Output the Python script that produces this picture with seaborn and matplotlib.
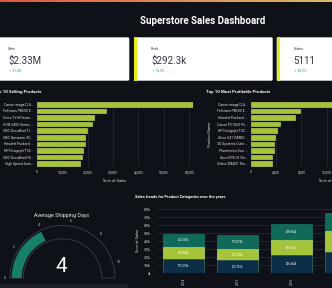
import matplotlib.pyplot as plt
import numpy as np
import pandas as pd
import seaborn as sns
from matplotlib.colors import LinearSegmentedColormap
from matplotlib.patches import FancyBboxPatch, Rectangle, Wedge

W, H = 332, 288
BG = "#0e1117"
LIME = "#a6c43a"
TEAL = "#106a5a"
NAVY = "#0c2e46"
GRID = "#2a2f39"
TXT = "#d8d8d8"

# KPI cards
kpi_names = ["Sales", "Profit", "Orders"]
kpi_values = ["$2.33M", "$292.3k", "5111"]
kpi_deltas = ["21.4%", "16.0%", "28.3%"]

# top 10 products
sales_products = ["Canon imageCLA...", "Fellowes PB500 E...", "Cisco TelePresen...",
                  "HON 5400 Series ...", "GBC DocuBind TL...", "GBC Ibimaster 50...",
                  "Hewlett Packard ...", "HP Designjet T52...", "GBC DocuBind P4...",
                  "High Speed Auto..."]
sales_values = [61600, 27450, 22640, 21870, 19820, 19020, 18840, 18370, 17970, 17030]

profit_products = ["Canon imageCLA...", "Fellowes PB500 E...", "Hewlett Packard ...",
                   "Canon PC1060 Pe...", "HP Designjet T52...", "Ativa V4110MDD ...",
                   "3D Systems Cube ...", "Plantronics Savi ...", "Ibico EPK-21 Ele...",
                   "Zebra ZM400 The..."]
profit_values = [25200, 7753, 6984, 4571, 4095, 3773, 3718, 3696, 3345, 3344]

# yearly sales by category (thousands)
years = ["2014", "2015", "2016", "2017"]
sales_technology = [175.278, 162.781, 226.364, 268.0]
sales_office = [156.804, 137.233, 186.276, 256.0]
sales_furniture = [162.23, 173.018, 208.964, 228.0]

# gauge
avg_ship_days = 4
gauge_max = 11
gauge_ticks = [0, 2, 4, 6, 8, 10]

sns.set_theme(style="dark")
plt.rcParams["font.family"] = ["Roboto", "DejaVu Sans"]

fig = plt.figure(figsize=(W / 100, H / 100), dpi=100, facecolor=BG)


def box(x0, y0, x1, y1):
    return [x0 / W, 1 - y1 / H, (x1 - x0) / W, (y1 - y0) / H]


# background layer in pixel coords
bg = fig.add_axes([0, 0, 1, 1], zorder=0)
grad = np.linspace(0, 1, 200).reshape(1, -1)
cmap = LinearSegmentedColormap.from_list("deco", ["#e0563f", "#dd8a55", "#d8b96b"])
bg.imshow(grad, cmap=cmap, extent=(0, W, 1.6, 0), aspect="auto")
bg.set_xlim(0, W)
bg.set_ylim(H, 0)
bg.axis("off")

bg.text(203, 21.5, "Superstore Sales Dashboard", ha="center", va="center",
        fontsize=7, weight="bold", color="white")

card_x = [(-8.7, 129.3), (134, 272.7), (276.7, 345)]
for (x0, x1), name, val, delta in zip(card_x, kpi_names, kpi_values, kpi_deltas):
    bg.add_patch(FancyBboxPatch((x0, 37.3), x1 - x0, 43.4,
                                boxstyle="round,pad=0,rounding_size=1.5",
                                fc="white", ec="none"))
    bg.add_patch(Rectangle((x0, 37.3), 3, 43.4, fc="#e3ee12", ec="none"))
    bg.text(x0 + 17, 49, name, fontsize=2.3, color="#31333f", va="center")
    bg.text(x0 + 17, 60.5, val, fontsize=7, color="#31333f", va="center")
    bg.text(x0 + 17.5, 70.6, "\u2191 " + delta, fontsize=2.3, color="#09ab3b", va="center")

bg.text(41, 92.3, "Top 10 Selling Products", ha="right", va="center",
        fontsize=3.2, weight="bold", color="white")
bg.text(205.7, 91.8, "Top 10 Most Profitable Products", ha="left", va="center",
        fontsize=3.2, weight="bold", color="white")
bg.text(135, 196.7, "Sales trends for Product Categories over the years", ha="left",
        va="center", fontsize=2.9, weight="bold", color="white")
bg.add_patch(Rectangle((0, 284), 128, 5, fc="#1c1f26", ec="none"))


def style_axes(ax):
    ax.set_facecolor("none")
    for s in ax.spines.values():
        s.set_visible(False)
    ax.tick_params(length=0, labelsize=2.3, colors=TXT, pad=2.5)


# top selling products
ax1 = fig.add_axes(box(36.7, 101, 193.3, 167), zorder=1)
sns.barplot(x=sales_values, y=sales_products, orient="h", color=LIME, saturation=1,
            edgecolor="#cde35f", linewidth=0.4, width=0.68, ax=ax1)
ax1.set_xlim(0, 61650)
ax1.set_ylim(9.5, -0.5)
ax1.set_xticks(range(0, 60001, 10000))
ax1.set_xticklabels([f"{v:,}" for v in range(0, 60001, 10000)])
style_axes(ax1)
ax1.tick_params(axis="y", labelsize=2.5)
ax1.grid(axis="x", color=GRID, lw=0.5)
ax1.grid(axis="y", visible=False)
ax1.set_axisbelow(True)
ax1.set_xlabel("Sum of Sales", fontsize=2.9, color=TXT, labelpad=3.5)
ax1.set_ylabel("Product Name", fontsize=2.9, color=TXT, labelpad=3.5)

# top profitable products
ax2 = fig.add_axes(box(251, 101, 410, 167), zorder=1)
sns.barplot(x=profit_values, y=profit_products, orient="h", color=LIME, saturation=1,
            edgecolor="#cde35f", linewidth=0.4, width=0.68, ax=ax2)
ax2.set_xlim(0, 25240)
ax2.set_ylim(9.5, -0.5)
ax2.set_xticks(range(0, 24001, 4000))
ax2.set_xticklabels([f"{v:,}" for v in range(0, 24001, 4000)])
style_axes(ax2)
ax2.tick_params(axis="y", labelsize=2.5)
ax2.grid(axis="x", color=GRID, lw=0.5)
ax2.grid(axis="y", visible=False)
ax2.set_axisbelow(True)
ax2.set_xlabel("Sum of Profit", fontsize=2.9, color=TXT, labelpad=3.5)
ax2.set_ylabel("Product Name", fontsize=2.9, color=TXT, labelpad=3.5)

# stacked yearly sales
df = pd.DataFrame({"year": years, "Technology": sales_technology,
                   "Office Supplies": sales_office, "Furniture": sales_furniture})
df["office_top"] = df["Technology"] + df["Office Supplies"]
df["total"] = df["office_top"] + df["Furniture"]

ax3 = fig.add_axes(box(156.7, 207.7, 372.7, 273.3), zorder=1)
sns.barplot(data=df, x="year", y="total", color=TEAL, saturation=1, width=0.76,
            edgecolor="#1a8270", linewidth=0.4, ax=ax3)
sns.barplot(data=df, x="year", y="office_top", color=LIME, saturation=1, width=0.76,
            edgecolor="#cde35f", linewidth=0.4, ax=ax3)
sns.barplot(data=df, x="year", y="Technology", color=NAVY, saturation=1, width=0.76,
            edgecolor="#123d5a", linewidth=0.4, ax=ax3)
for i, row in df.iterrows():
    segs = [(0, row["Technology"]), (row["Technology"], row["Office Supplies"]),
            (row["office_top"], row["Furniture"])]
    for base, v in segs:
        ax3.text(i, base + v / 2, f"{v:.3f}k", ha="center", va="center",
                 fontsize=2.0, color="white")
ax3.set_ylim(0, 820)
ax3.set_xlim(-0.5, 3.5)
ax3.set_yticks(range(0, 801, 100))
ax3.set_yticklabels([f"{v}k" for v in range(0, 801, 100)])
style_axes(ax3)
ax3.tick_params(axis="y", pad=4)
ax3.tick_params(axis="x", rotation=90, pad=3)
ax3.grid(axis="y", color=GRID, lw=0.5)
ax3.grid(axis="x", visible=False)
ax3.set_axisbelow(True)
ax3.set_xlabel("")
ax3.set_ylabel("Sum of Sales", fontsize=2.9, color=TXT, labelpad=3)

# gauge
gax = fig.add_axes(box(0, 200, 130, 288), zorder=1)
gax.set_xlim(0, 130)
gax.set_ylim(0, 88)
gax.axis("off")
cx, cy = 62.5, 10
gax.add_patch(Wedge((cx, cy), 52.5, 0, 180, width=13.3, fc="none", ec="#3a3e47", lw=0.6))
gax.add_patch(Wedge((cx, cy), 50.8, 180 - avg_ship_days / gauge_max * 180, 180,
                    width=10, fc="#17806a", ec="none"))
for t in gauge_ticks:
    a = np.deg2rad(180 - t / gauge_max * 180)
    gax.text(cx + 58 * np.cos(a), cy + 58 * np.sin(a), str(t), ha="center",
             va="center", fontsize=2.3, color=TXT)
gax.text(cx - 1, 16, str(avg_ship_days), ha="center", va="baseline", fontsize=15,
         color="white")
gax.text(61.5, 73, "Average Shipping Days", ha="center", va="center", fontsize=3.9,
         color="#e6e6e6")

fig.savefig("out.png", dpi=100, facecolor=BG)
